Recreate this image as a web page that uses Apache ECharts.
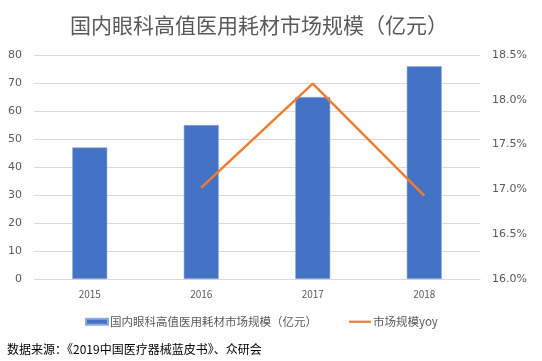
<!DOCTYPE html>
<html>
<head>
<meta charset="utf-8">
<script src="https://cdn.jsdelivr.net/npm/echarts@6/dist/echarts.min.js"></script>
<style>html,body{margin:0;padding:0;background:#fff;}#c{width:542px;height:361px;}</style>
</head>
<body>
<div id="c"></div>
<script>
const categories = ['2015', '2016', '2017', '2018'];
const marketSize = [47, 55, 65, 76];
const yoy = [null, 17.02, 18.18, 16.93];
const titleText = '国内眼科高值医用耗材市场规模（亿元）';
const barName = '国内眼科高值医用耗材市场规模（亿元）';
const lineName = '市场规模yoy';
const sourceText = '数据来源：《2019中国医疗器械蓝皮书》、众研会';

const FONT = '"Noto Sans CJK SC", "Noto Sans", sans-serif';
const chart = echarts.init(document.getElementById('c'), null, {renderer: 'canvas'});
chart.setOption({
  animation: false,
  backgroundColor: '#ffffff',
  title: [{
    text: titleText,
    left: 254, top: 10, textAlign: 'center',
    textStyle: {fontSize: 21, fontWeight: 'normal', color: '#595959', fontFamily: FONT}
  }, {
    text: sourceText,
    left: 2, top: 338,
    textStyle: {fontSize: 12, fontWeight: 'normal', color: '#000000', fontFamily: FONT}
  }],
  legend: {
    left: 80, top: 311,
    itemGap: 32,
    textStyle: {fontSize: 11.5, color: '#595959', fontFamily: FONT, padding: [0, 0, 0, -3]},
    data: [
      {name: barName, icon: 'rect', itemStyle: {color: '#4472C4'}},
      {name: lineName, icon: 'path://M0,0 L10,0 L10,1 L0,1 Z', itemStyle: {color: '#ED7D31'}}
    ],
    itemWidth: 22, itemHeight: 6
  },
  grid: {left: 34, right: 62, top: 55, bottom: 82, containLabel: false},
  xAxis: {
    type: 'category',
    data: categories,
    axisLine: {show: true, lineStyle: {color: '#D9D9D9'}},
    axisTick: {show: false},
    axisLabel: {fontSize: 10, color: '#595959', margin: 10, fontFamily: FONT}
  },
  yAxis: [{
    type: 'value', min: 0, max: 80, interval: 10,
    axisLine: {show: false}, axisTick: {show: false},
    splitLine: {lineStyle: {color: '#D9D9D9', width: 1}},
    axisLabel: {fontSize: 11, color: '#595959', margin: 12, fontFamily: 'DejaVu Sans'}
  }, {
    type: 'value', min: 16, max: 18.5, interval: 0.5,
    axisLine: {show: false}, axisTick: {show: false},
    splitLine: {show: false},
    axisLabel: {fontSize: 11, color: '#595959', margin: 12, fontFamily: 'DejaVu Sans',
      formatter: v => v.toFixed(1) + '%'}
  }],
  series: [{
    name: barName,
    type: 'bar',
    data: marketSize,
    barWidth: 35,
    itemStyle: {color: '#4472C4', borderColor: '#8FAADC', borderWidth: 0.6}
  }, {
    name: lineName,
    type: 'line',
    yAxisIndex: 1,
    data: yoy,
    symbol: 'none',
    lineStyle: {color: '#ED7D31', width: 2.5},
    itemStyle: {color: '#ED7D31'}
  }]
});
</script>
</body>
</html>
